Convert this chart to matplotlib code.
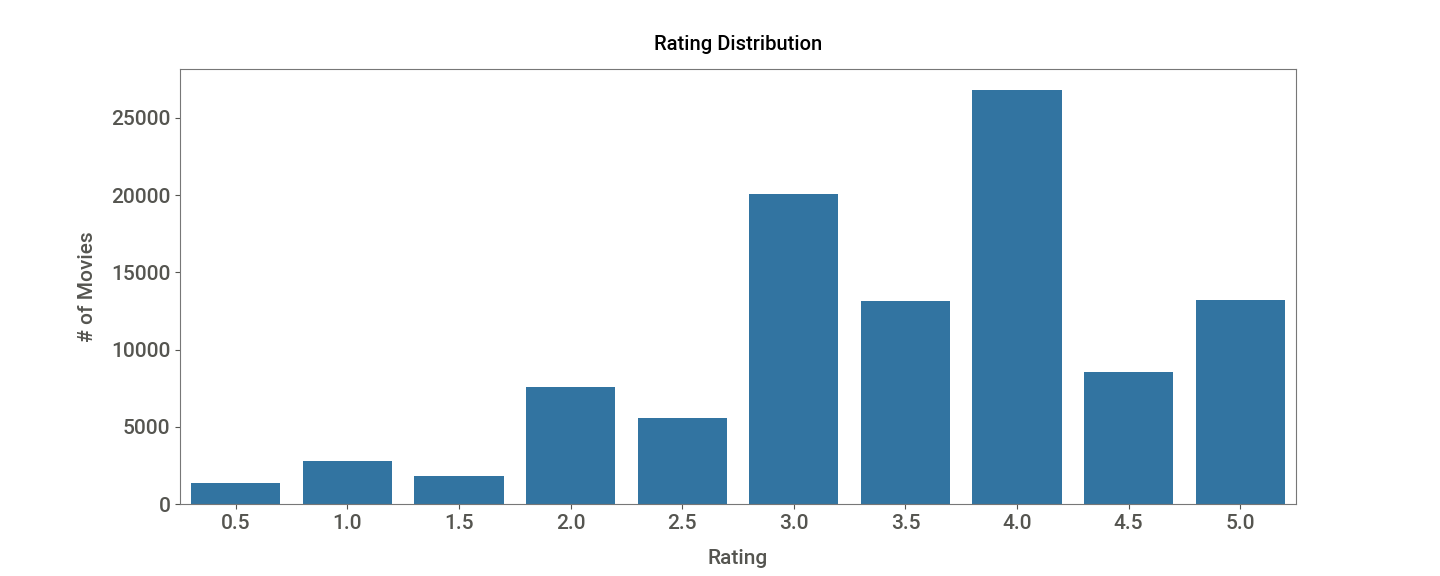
import matplotlib
matplotlib.use("Agg")
import matplotlib.pyplot as plt
import numpy as np

ratings = ["0.5", "1.0", "1.5", "2.0", "2.5", "3.0", "3.5", "4.0", "4.5", "5.0"]
counts = [1370, 2811, 1791, 7551, 5550, 20047, 13136, 26818, 8551, 13211]

plt.rcParams['font.family'] = ['Roboto', 'DejaVu Sans']
plt.rcParams['font.weight'] = 'medium'
gray = '#555550'

fig, ax = plt.subplots(figsize=(14.4, 5.76), dpi=100)
fig.subplots_adjust(left=0.125, right=0.9, bottom=0.125, top=0.88)
x = np.arange(len(ratings))
ax.bar(x, counts, width=0.8, color='#3274a1')
ax.set_xticks(x, ratings)
ax.set_xlim(-0.5, len(ratings) - 0.5)
ax.set_yticks([0, 5000, 10000, 15000, 20000, 25000])

ax.set_title('Rating Distribution', fontsize=14.5, pad=14, color='black', fontweight='medium')
ax.set_xlabel('Rating', fontsize=15, labelpad=12, color=gray, fontweight='medium')
ax.set_ylabel('# of Movies', fontsize=15, labelpad=10, color=gray, fontweight='medium')
ax.tick_params(labelsize=15, colors=gray)
for s in ax.spines.values():
    s.set_color('#777777')

fig.savefig('out.png', dpi=100, facecolor='white')
